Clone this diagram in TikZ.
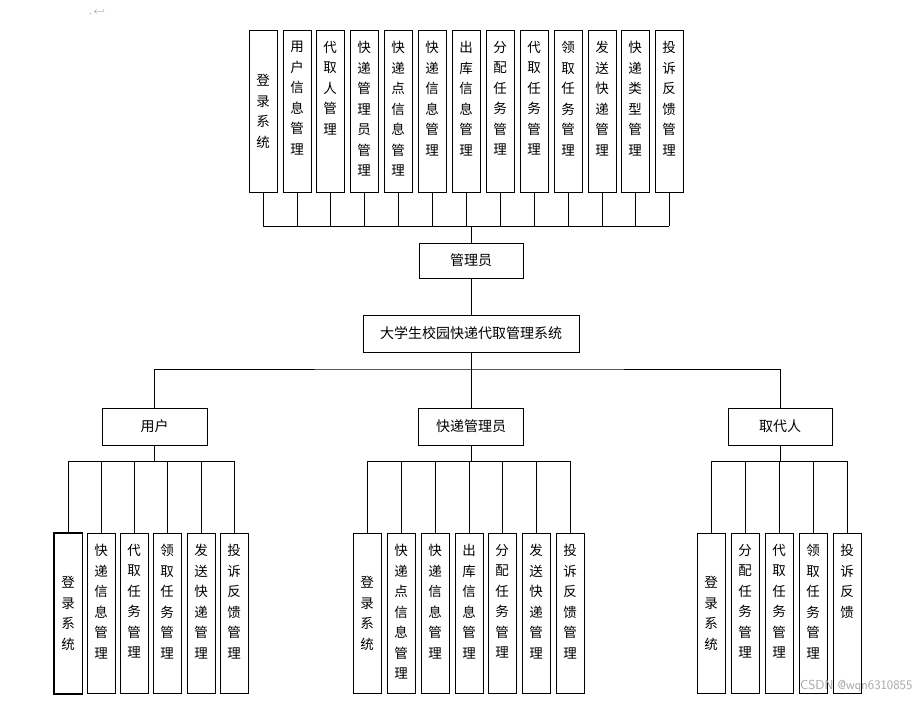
\documentclass[tikz,border=0pt]{standalone}
\usepackage{fontspec}
\newfontfamily\cjk{Noto Sans CJK SC}
\tikzset{
 bx/.style={draw=black,line width=0.8pt,minimum width=28pt,inner sep=0pt,anchor=north},
 vt/.style={font=\cjk\fontsize{13.5}{20.5}\selectfont,align=center,inner sep=0pt},
 hb/.style={draw=black,line width=0.8pt,font=\cjk\fontsize{14}{16}\selectfont,inner sep=0pt},
 ln/.style={line width=0.8pt}
}
% name, cx, ytop, height, text
\newcommand\vbx[5]{\node[bx,minimum height=#4] (#1) at (#2,#3) {};
 \node[vt,anchor=north] (#1t) at (#2,#3+11) {#5};}
\newcommand\vbc[5]{\node[bx,minimum height=#4] (#1) at (#2,#3) {};
 \node[vt] (#1t) at (#1.center) {#5};}
\begin{document}
\begin{tikzpicture}[x=1pt,y=-1pt]
\useasboundingbox (0,0) rectangle (918,702);
\fill[white] (0,0) rectangle (918,702);
\node[font=\normalsize,text=gray] (mk) at (97,12) {.\,$\hookleftarrow$};
% top row
\vbc{t0}{263}{30}{162}{登\\录\\系\\统}
\vbx{t1}{297}{30}{162}{用\\户\\信\\息\\管\\理}
\vbx{t2}{330}{30}{162}{代\\取\\人\\管\\理}
\vbx{t3}{364}{30}{162}{快\\递\\管\\理\\员\\管\\理}
\vbx{t4}{398}{30}{162}{快\\递\\点\\信\\息\\管\\理}
\vbx{t5}{432}{30}{162}{快\\递\\信\\息\\管\\理}
\vbx{t6}{466}{30}{162}{出\\库\\信\\息\\管\\理}
\vbx{t7}{500}{30}{162}{分\\配\\任\\务\\管\\理}
\vbx{t8}{534}{30}{162}{代\\取\\任\\务\\管\\理}
\vbx{t9}{568}{30}{162}{领\\取\\任\\务\\管\\理}
\vbx{t10}{602}{30}{162}{发\\送\\快\\递\\管\\理}
\vbx{t11}{635}{30}{162}{快\\递\\类\\型\\管\\理}
\vbx{t12}{669}{30}{162}{投\\诉\\反\\馈\\管\\理}
\node[hb,minimum width=104pt,minimum height=35pt] (adm) at (471,260.5) {管理员};
\node[hb,minimum width=216pt,minimum height=37pt] (sys) at (471,333.5) {大学生校园快递代取管理系统};
\coordinate (tb) at (471,226);
\draw[ln] (t0.south |- tb) -- (t12.south |- tb);
\foreach \i in {0,...,12} \draw[ln] (t\i.south) -- (t\i.south |- tb);
\draw[ln] (tb) -- (adm.north);
\draw[ln] (adm.south) -- (sys.north);
% middle level
\node[hb,minimum width=105pt,minimum height=37pt] (u) at (154.5,426.5) {用户};
\node[hb,minimum width=105pt,minimum height=37pt] (k) at (471,426.5) {快递管理员};
\node[hb,minimum width=104pt,minimum height=37pt] (q) at (780,426.5) {取代人};
\coordinate (sb) at (471,369);
\draw[ln] (sys.south) -- (sb);
\draw[ln] (u.north) |- (sb) -| (q.north);
\draw[ln] (sb) -- (k.north);
% user group
\vbc{u0}{68}{533}{160}{登\\录\\系\\统}
\vbx{u1}{101}{533}{160}{快\\递\\信\\息\\管\\理}
\vbx{u2}{134}{533}{160}{代\\取\\任\\务\\管\\理}
\vbx{u3}{167}{533}{160}{领\\取\\任\\务\\管\\理}
\vbx{u4}{201}{533}{160}{发\\送\\快\\递\\管\\理}
\vbx{u5}{234}{533}{160}{投\\诉\\反\\馈\\管\\理}
\draw[line width=1.6pt] (u0.north west) rectangle (u0.south east);
\coordinate (ub) at (154.5,461);
\draw[ln] (u.south) -- (ub);
\draw[ln] (u0.north |- ub) -- (u5.north |- ub);
\foreach \i in {0,...,5} \draw[ln] (u\i.north) -- (u\i.north |- ub);
% courier admin group
\vbc{k0}{367}{533}{160}{登\\录\\系\\统}
\vbx{k1}{401}{533}{160}{快\\递\\点\\信\\息\\管\\理}
\vbx{k2}{435}{533}{160}{快\\递\\信\\息\\管\\理}
\vbx{k3}{469}{533}{160}{出\\库\\信\\息\\管\\理}
\vbx{k4}{502}{533}{160}{分\\配\\任\\务\\管\\理}
\vbx{k5}{536}{533}{160}{发\\送\\快\\递\\管\\理}
\vbx{k6}{570}{533}{160}{投\\诉\\反\\馈\\管\\理}
\coordinate (kb) at (471,461);
\draw[ln] (k.south) -- (kb);
\draw[ln] (k0.north |- kb) -- (k6.north |- kb);
\foreach \i in {0,...,6} \draw[ln] (k\i.north) -- (k\i.north |- kb);
% agent group
\vbc{q0}{711}{533}{160}{登\\录\\系\\统}
\vbx{q1}{745}{533}{160}{分\\配\\任\\务\\管\\理}
\vbx{q2}{779}{533}{160}{代\\取\\任\\务\\管\\理}
\vbx{q3}{813}{533}{160}{领\\取\\任\\务\\管\\理}
\vbx{q4}{847}{533}{160}{投\\诉\\反\\馈}
\coordinate (qb) at (780,461);
\draw[ln] (q.south) -- (qb);
\draw[ln] (q0.north |- qb) -- (q4.north |- qb);
\foreach \i in {0,...,4} \draw[ln] (q\i.north) -- (q\i.north |- qb);
\node[font=\sffamily\fontsize{13}{14}\selectfont,text=gray!70,anchor=east] (wm) at (916,686) {CSDN @wqn6310855};
\end{tikzpicture}
\end{document}
